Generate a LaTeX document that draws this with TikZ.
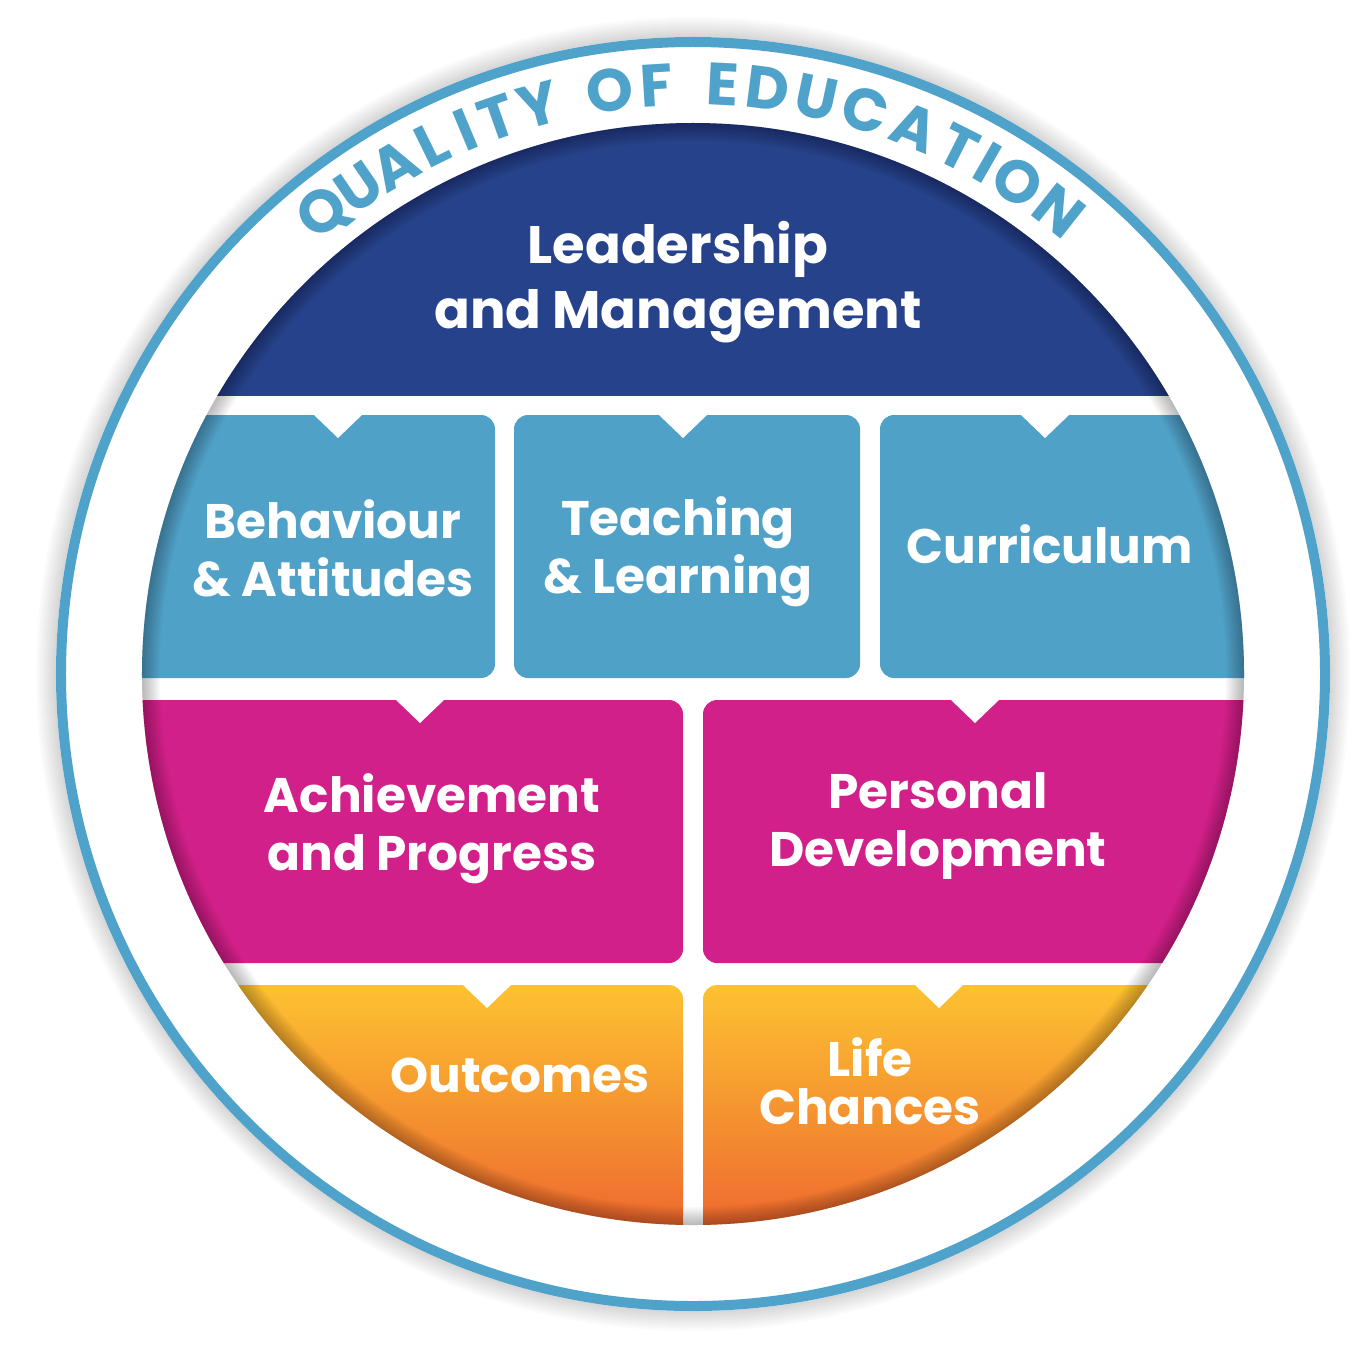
\documentclass[tikz,border=0pt]{standalone}
\usepackage{fontspec}
\setmainfont{Poppins}
\definecolor{leadblue}{RGB}{37,66,138}
\definecolor{tileblue}{RGB}{80,161,200}
\definecolor{ringblue}{RGB}{79,162,201}
\definecolor{tilepink}{RGB}{210,32,138}
\definecolor{tileyellow}{RGB}{253,194,49}
\definecolor{tileorange}{RGB}{235,88,47}
\tikzset{
  tile/.style={rounded corners=4pt},
  notch/.style={fill=white},
  tile text/.style={text=white, font=\bfseries\fontsize{13.8}{16.5}\selectfont, align=center, inner sep=0pt},
  ring letter/.style={text=ringblue, font=\bfseries\fontsize{17}{17}\selectfont, inner sep=0pt},
}
\begin{document}
\begin{tikzpicture}[x=0.01cm,y=0.01cm]
    \useasboundingbox (-693,-680) rectangle (675,674);
    \fill[white] (-693,-680) rectangle (675,674);
    % soft shadow round the disc
    \foreach \w in {4,8,...,40}
        \draw[black, opacity=0.015, line width=\w*0.01cm] (0,0) circle (637);
    \fill[white] (0,0) circle (637);
    \draw[ringblue, line width=0.1cm] (0,0) circle (632);
    % title round the ring
    \foreach \ch/\ang [count=\i] in {Q/128.8,U/124.5,A/120.4,L/116.2,I/112.7,T/109.4,Y/105.2,O/98.1,F/93.5,E/87.1,D/82.7,U/77.9,C/73.0,A/67.9,T/63.2,I/60.1,O/56.6,N/51.7}
        \node[ring letter, rotate=\ang-90] (title\i) at (\ang:590) {\ch};
    \begin{scope}
        \clip (0,0) circle (551);
        \fill[leadblue] (-560,278) rectangle (560,560);
        % second row
        \fill[tileblue, tile] (-600,-4) rectangle (-198,259);
        \fill[tileblue, tile] (-179,-4) rectangle (167,259);
        \fill[tileblue, tile] (187,-4) rectangle (600,259);
        % third row
        \fill[tilepink, tile] (-600,-289) rectangle (-10,-26);
        \fill[tilepink, tile] (10,-289) rectangle (600,-26);
        % bottom row
        \shade[tile, top color=tileyellow, bottom color=tileorange] (-600,-600) rectangle (-10,-311);
        \shade[tile, top color=tileyellow, bottom color=tileorange] (10,-600) rectangle (600,-311);
        \foreach \nx/\ny in {-355/259,-10/259,352/259,-273/-26,282/-26,-206/-311,246/-311}
            \fill[notch] (\nx-25,\ny+1) -- (\nx,\ny-23) -- (\nx+25,\ny+1) -- cycle;
        % inner shade at the rim
        \foreach \w in {3,6,...,36}
            \draw[black, opacity=0.022, line width=\w*0.01cm] (0,0) circle (551);
    \end{scope}
    \node[tile text, font=\bfseries\fontsize{15}{18.3}\selectfont] (lead) at (-15,392) {Leadership\\and Management};
    \node[tile text] (behav) at (-360,126) {Behaviour\\\& Attitudes};
    \node[tile text] (teach) at (-15,122) {Teaching\\\& Learning};
    \node[tile text] (curric) at (357,130) {Curriculum};
    \node[tile text] (achiev) at (-261,-155) {Achievement\\and Progress};
    \node[tile text] (person) at (245,-152) {Personal\\Development};
    \node[tile text] (outcome) at (-173,-401) {Outcomes};
    \node[tile text, font=\bfseries\fontsize{13.8}{13.7}\selectfont] (life) at (177,-407) {Life\\Chances};
\end{tikzpicture}
\end{document}
